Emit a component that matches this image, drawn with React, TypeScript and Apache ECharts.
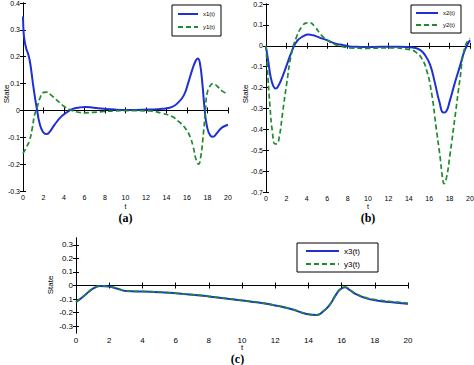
import React, { useEffect, useRef } from "react";
import * as echarts from "echarts";

// ---- (a) ----
const tX1 = [0, 0.06, 0.15, 0.32, 0.5, 0.65, 0.8, 0.97, 1.2, 1.4, 1.6, 1.95, 2.3, 2.6, 3.05, 3.7, 4.35, 4.8, 5.5, 6.1, 6.9, 7.9, 9, 10, 11, 12.3, 13.6, 14.55, 15.2, 15.7, 16.1, 16.5, 16.85, 17.05, 17.25, 17.5, 17.7, 17.95, 18.3, 18.55, 18.95, 19.4, 20];
const x1 = [0.35, 0.29, 0.26, 0.23, 0.21, 0.187, 0.15, 0.1, 0.04, -0.005, -0.045, -0.08, -0.088, -0.08, -0.055, -0.024, -0.005, 0.005, 0.011, 0.013, 0.01, 0.006, 0.003, 0.002, 0.002, 0.003, 0.006, 0.013, 0.032, 0.057, 0.1, 0.15, 0.185, 0.193, 0.178, 0.1, 0.013, -0.06, -0.095, -0.098, -0.083, -0.064, -0.053];
const tY1 = [0, 0.3, 0.65, 0.9, 1.13, 1.4, 1.7, 2.03, 2.3, 2.75, 3.4, 4.05, 4.7, 5.3, 6.0, 6.9, 7.9, 9, 10, 11, 12.3, 13.6, 14.55, 15.2, 15.85, 16.3, 16.6, 16.9, 17.12, 17.35, 17.6, 17.8, 17.96, 18.3, 18.55, 18.95, 19.4, 20];
const y1 = [-0.16, -0.14, -0.11, -0.067, -0.017, 0.014, 0.05, 0.067, 0.068, 0.057, 0.035, 0.014, 0.001, -0.006, -0.009, -0.007, -0.004, -0.002, -0.001, -0.001, -0.002, -0.011, -0.023, -0.042, -0.067, -0.098, -0.135, -0.185, -0.2, -0.17, -0.086, 0, 0.063, 0.094, 0.1, 0.09, 0.073, 0.061];

// ---- (b) ----
const tX2 = [0, 0.23, 0.46, 0.72, 0.95, 1.2, 1.54, 2.03, 2.5, 3.0, 3.66, 4.15, 4.64, 5.3, 5.95, 6.6, 7.25, 8.2, 9, 10, 11.2, 13.1, 14.4, 15.1, 15.6, 16.1, 16.57, 17.0, 17.4, 17.65, 18.04, 18.5, 19.0, 19.5, 20];
const x2 = [-0.005, -0.077, -0.15, -0.193, -0.205, -0.193, -0.157, -0.093, -0.03, 0.02, 0.046, 0.054, 0.05, 0.038, 0.027, 0.014, 0.006, -0.003, -0.005, -0.006, -0.005, -0.005, -0.008, -0.02, -0.045, -0.093, -0.18, -0.268, -0.32, -0.316, -0.26, -0.18, -0.1, -0.02, 0.027];
const tY2 = [0, 0.12, 0.39, 0.62, 0.88, 1.05, 1.3, 1.63, 2.03, 2.5, 3.0, 3.5, 4.0, 4.3, 4.8, 5.45, 6.1, 6.76, 7.6, 8.2, 10, 12, 14.1, 14.77, 15.26, 15.75, 16.24, 16.67, 17.06, 17.3, 17.45, 17.7, 18.04, 18.53, 19.0, 19.5, 20];
const y2 = [0, -0.1, -0.29, -0.41, -0.47, -0.47, -0.436, -0.32, -0.18, -0.037, 0.043, 0.09, 0.11, 0.11, 0.09, 0.05, 0.024, 0.006, -0.005, -0.01, -0.012, -0.01, -0.018, -0.034, -0.06, -0.117, -0.228, -0.388, -0.53, -0.63, -0.66, -0.63, -0.52, -0.34, -0.165, -0.005, 0.035];

// ---- (c) ----
const tX3 = [0, 0.5, 1.0, 1.45, 2.0, 2.5, 3.0, 4.0, 5.0, 6.0, 7.0, 8.0, 9.0, 10.0, 11.0, 12.0, 13.0, 13.9, 14.5, 14.9, 15.3, 15.6, 15.9, 16.2, 16.5, 16.9, 17.5, 18.1, 18.9, 19.8, 20];
const x3 = [-0.123, -0.075, -0.025, -0.004, -0.008, -0.024, -0.04, -0.045, -0.049, -0.058, -0.068, -0.081, -0.095, -0.11, -0.126, -0.147, -0.175, -0.21, -0.218, -0.19, -0.14, -0.08, -0.03, -0.012, -0.035, -0.066, -0.095, -0.11, -0.122, -0.132, -0.134];
const y3 = [-0.121, -0.074, -0.024, -0.003, -0.007, -0.023, -0.039, -0.044, -0.048, -0.057, -0.067, -0.08, -0.094, -0.109, -0.125, -0.146, -0.174, -0.209, -0.217, -0.189, -0.139, -0.079, -0.029, -0.011, -0.033, -0.063, -0.091, -0.105, -0.117, -0.127, -0.129];

const yTicksC = [-0.3, -0.2, -0.1, 0, 0.1, 0.2, 0.3];
const panelLabels = ["(a)", "(b)", "(c)"];
const xName = "t";
const yName = "State";

const BLUE = "#1f2fd6";
const GREEN = "#1f8a2e";
const FONT = "Liberation Sans, Arial, sans-serif";
const SERIF_BOLD = "bold 12px 'Liberation Serif', 'Times New Roman', serif";

const zip = (t: number[], v: number[]) => t.map((x, i) => [x, v[i]]);
const fmt = (v: number) => {
  const r = Math.round(v * 100) / 100;
  return r === 0 ? "0" : String(r);
};

export default function App() {
  const ref = useRef<HTMLDivElement>(null);
  useEffect(() => {
    if (!ref.current) return;
    const chart = echarts.init(ref.current, null, { renderer: "svg" });

    const xAxisBase = (grid: number, fs: number) => [
      {
        type: "value", gridIndex: grid, position: "bottom", min: 0, max: 20, interval: 2,
        axisLine: { show: true, lineStyle: { color: "#000", width: 1 } },
        axisTick: { show: true, inside: true, length: 3, lineStyle: { color: "#000" } },
        axisLabel: { show: true, fontFamily: FONT, fontSize: fs, color: "#000", margin: 3, formatter: fmt },
        splitLine: { show: false },
      },
      {
        type: "value", gridIndex: grid, position: "top", min: 0, max: 20, interval: 2,
        axisLine: { show: true, lineStyle: { color: "#000", width: 1 } },
        axisTick: { show: true, inside: true, length: 3, lineStyle: { color: "#000" } },
        axisLabel: { show: false },
        splitLine: { show: false },
      },
    ];

    const yAxisBase = (grid: number, min: number, max: number, fs: number, custom?: number[]) => [
      {
        type: "value", gridIndex: grid, position: "left", min, max,
        ...(custom ? {} : { interval: 0.1 }),
        axisLine: { show: true, lineStyle: { color: "#000", width: 1 } },
        axisTick: { show: true, inside: true, length: 3, lineStyle: { color: "#000" }, ...(custom ? { customValues: custom } : {}) },
        axisLabel: { show: true, fontFamily: FONT, fontSize: fs, color: "#000", margin: 3, formatter: fmt, ...(custom ? { customValues: custom } : {}) },
        splitLine: { show: false },
      },
      {
        type: "value", gridIndex: grid, position: "right", min, max,
        ...(custom ? {} : { interval: 0.1 }),
        axisLine: { show: true, lineStyle: { color: "#000", width: 1 } },
        axisTick: { show: true, inside: true, length: 3, lineStyle: { color: "#000" }, ...(custom ? { customValues: custom } : {}) },
        axisLabel: { show: false },
        splitLine: { show: false },
      },
    ];

    const lineSeries = (name: string, data: number[][], xi: number, yi: number, dashed: boolean) => ({
      type: "line", name, data, xAxisIndex: xi, yAxisIndex: yi,
      symbol: "none", showSymbol: false, smooth: 0.5,
      lineStyle: dashed
        ? { color: GREEN, width: 1.7, type: [5, 3] }
        : { color: BLUE, width: 2, type: "solid" },
      itemStyle: { color: dashed ? GREEN : BLUE },
      emphasis: { disabled: true },
      z: dashed ? 3 : 2,
    });

    const legendBase = (names: string[], left: number, top: number, fs: number, itemW: number, itemH: number, gap: number, padding: number[]) => ({
      data: names, orient: "vertical", left, top, padding, itemGap: gap,
      itemWidth: itemW, itemHeight: itemH,
      itemStyle: { opacity: 0, borderWidth: 0 },
      backgroundColor: "#fff", borderColor: "#000", borderWidth: 1, borderRadius: 0,
      textStyle: { fontFamily: FONT, fontSize: fs, color: "#000", padding: [0, 0, 0, 0] },
      selectedMode: false,
    });

    const txt = (text: string, x: number, y: number, font: string, rot = 0) => ({
      type: "text", x, y, rotation: rot, silent: true,
      style: { text, font, fill: "#000", align: "center", verticalAlign: "middle" },
    });

    chart.setOption({
      animation: false,
      backgroundColor: "#fff",
      grid: [
        { left: 23, top: 3, width: 205, height: 188, containLabel: false, outerBoundsMode: "none" },
        { left: 266, top: 4, width: 204, height: 188, containLabel: false, outerBoundsMode: "none" },
        { left: 76, top: 238, width: 332, height: 95, containLabel: false, outerBoundsMode: "none" },
      ],
      xAxis: [...xAxisBase(0, 7), ...xAxisBase(1, 7), ...xAxisBase(2, 8)],
      yAxis: [
        ...yAxisBase(0, -0.3, 0.4, 7),
        ...yAxisBase(1, -0.7, 0.2, 7),
        ...yAxisBase(2, -0.35, 0.35, 8, yTicksC),
      ],
      legend: [
        legendBase(["x1(t)", "y1(t)"], 172, 5, 6, 20, 6, 7, [6, 6, 6, 5]),
        legendBase(["x2(t)", "y2(t)"], 411, 5, 6, 22, 6, 6, [5, 6, 5, 4]),
        legendBase(["x3(t)", "y3(t)"], 297, 243, 8, 33, 8, 5, [4, 18, 4, 8]),
      ],
      series: [
        lineSeries("x1(t)", zip(tX1, x1), 0, 0, false),
        lineSeries("y1(t)", zip(tY1, y1), 0, 0, true),
        lineSeries("x2(t)", zip(tX2, x2), 2, 2, false),
        lineSeries("y2(t)", zip(tY2, y2), 2, 2, true),
        lineSeries("x3(t)", zip(tX3, x3), 4, 4, false),
        lineSeries("y3(t)", zip(tX3, y3), 4, 4, true),
      ],
      graphic: [
        txt(xName, 125.5, 206, `7px ${FONT}`),
        txt(xName, 368, 206, `7px ${FONT}`),
        txt(xName, 242, 347.5, `8px ${FONT}`),
        txt(yName, 6.5, 94, `8px ${FONT}`, Math.PI / 2),
        txt(yName, 245.5, 94, `8px ${FONT}`, Math.PI / 2),
        txt(yName, 50.5, 285, `8px ${FONT}`, Math.PI / 2),
        txt(panelLabels[0], 125.5, 217.5, SERIF_BOLD),
        txt(panelLabels[1], 368, 217.5, SERIF_BOLD),
        txt(panelLabels[2], 237.5, 358.5, SERIF_BOLD),
      ],
    });
    return () => chart.dispose();
  }, []);
  return (
    <div
      ref={ref}
      style={{ position: "fixed", left: 0, top: 0, width: 474, height: 365, background: "#fff" }}
    />
  );
}
